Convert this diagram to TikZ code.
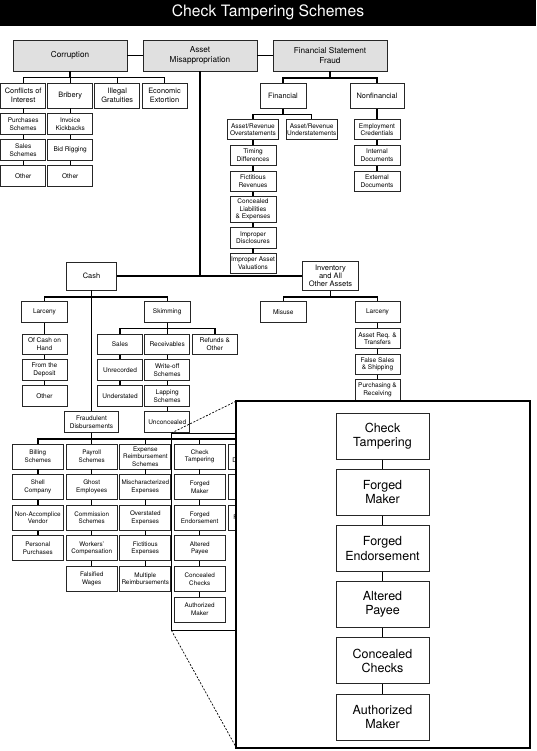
\documentclass[tikz,border=0pt]{standalone}
\usepackage{fontspec}
\setmainfont{TeX Gyre Heros}
\usepackage{xcolor}
\usepackage{tikz}

\begin{document}
\begin{tikzpicture}[x=1pt,y=-1pt,
	link/.style={line width=1.4pt},
	box/.style={draw=black!85,line width=0.9pt,fill=white,inner sep=0.5pt,align=center},
	top/.style={box,fill=black!12,minimum width=114,minimum height=31,font=\fontsize{8.2}{10.5}\selectfont},
	mid/.style={box,minimum width=45,minimum height=25,font=\fontsize{7.4}{9}\selectfont},
	sub/.style={box,minimum width=45,minimum height=20.4,font=\fontsize{6.5}{7.4}\selectfont},
	dis/.style={box,minimum width=51,minimum height=25,font=\fontsize{6.3}{7.6}\selectfont},
	big/.style={box,line width=1pt,minimum width=93,minimum height=46,font=\fontsize{12.5}{14.3}\selectfont}]
	\useasboundingbox (0,0) rectangle (536,751);
	\fill[black] (0,0) rectangle (536,26);
	\node (title) at(268,12.5)[white,font=\fontsize{15.7}{18}\selectfont]{Check Tampering Schemes};
	
	% top row
	\node (cor) at(70,55.5)[top]{Corruption};
	\node (am) at(200,55.5)[top]{Asset\\Misappropriation};
	\node (fsf) at(330,55.5)[top]{Financial Statement\\Fraud};
	\draw[link] (cor.east) -- (am.west);
	\draw[link] (am.east) -- (fsf.west);
	
	% corruption
	\node (coi) at(23.2,95.5)[mid]{Conflicts of\\Interest};
	\node (bri) at(70.2,95.5)[mid]{Bribery};
	\node (ill) at(117.3,95.5)[mid]{Illegal\\Gratuities};
	\node (eco) at(164.5,95.5)[mid]{Economic\\Extortion};
	\node (ps) at(23.2,124)[sub]{Purchases\\Schemes};
	\node (ss) at(23.2,150)[sub]{Sales\\Schemes};
	\node (oa) at(23.2,176)[sub]{Other};
	\node (ik) at(70.2,124)[sub]{Invoice\\Kickbacks};
	\node (br) at(70.2,150)[sub]{Bid Rigging};
	\node (ob) at(70.2,176)[sub]{Other};
	\foreach \c in {coi,bri,ill,eco}
		\draw[link] (cor.south) -- ++(0,6.3) -| (\c.north);
	\foreach \a/\b in {coi/ps,ps/ss,ss/oa,bri/ik,ik/br,br/ob}
		\draw[link] (\a.south) -- (\b.north);
	
	% financial statement fraud
	\node (fin) at(283,96)[mid,minimum width=46]{Financial};
	\node (nfin) at(377,96)[mid,minimum width=54]{Nonfinancial};
	\node (aro) at(253,129.7)[sub,minimum width=51]{Asset/Revenue\\Overstatements};
	\node (aru) at(311.7,129.7)[sub,minimum width=51]{Asset/Revenue\\Understatements};
	\node (td) at(253,155.3)[sub,minimum width=46]{Timing\\Differences};
	\node (fr) at(253,181.3)[sub,minimum width=46]{Fictitious\\Revenues};
	\node (cle) at(253,209.5)[sub,minimum width=46,minimum height=25.7]{Concealed\\Liabilities\\\& Expenses};
	\node (id) at(253,237.8)[sub,minimum width=46]{Improper\\Disclosures};
	\node (iav) at(253,263.3)[sub,minimum width=46]{Improper Asset\\Valuations};
	\node (ec) at(377,129.7)[sub,minimum width=46]{Employment\\Credentials};
	\node (ind) at(377,155.3)[sub,minimum width=46]{Internal\\Documents};
	\node (exd) at(377,181.3)[sub,minimum width=46]{External\\Documents};
	\foreach \c in {fin,nfin}
		\draw[link] (fsf.south) -- ++(0,6.7) -| (\c.north);
	\foreach \c in {aro,aru}
		\draw[link] (fin.south) -- ++(0,5.3) -| (\c.north);
	\foreach \a/\b in {aro/td,td/fr,fr/cle,cle/id,id/iav,nfin/ec,ec/ind,ind/exd}
		\draw[link] (\a.south) -- (\b.north);
	
	% asset misappropriation
	\node (cash) at(91.5,276)[mid,minimum width=50,minimum height=28]{Cash};
	\node (inv) at(330.5,276)[mid,minimum width=56,minimum height=29,font=\fontsize{7.5}{7.8}\selectfont]{Inventory\\and All\\Other Assets};
	\draw[link] (am.south) -- (am.south |- cash.east);
	\draw[link] (cash.east) -- (inv.west);
	
	\node (lar) at(44.5,312)[sub,minimum width=45.7]{Larceny};
	\node (ski) at(167.2,312)[sub,minimum width=45.7]{Skimming};
	\node (och) at(44.5,344.2)[sub]{Of Cash on\\Hand};
	\node (ftd) at(44.5,370)[sub]{From the\\Deposit};
	\node (oc) at(44.5,396)[sub]{Other};
	\node (sal) at(120,344.2)[sub]{Sales};
	\node (rec) at(167.2,344.2)[sub]{Receivables};
	\node (rfo) at(214.8,344.2)[sub]{Refunds \&\\Other};
	\node (unr) at(120,370)[sub]{Unrecorded};
	\node (und) at(120,396)[sub]{Understated};
	\node (wos) at(167.2,370)[sub]{Write-off\\Schemes};
	\node (lap) at(167.2,396)[sub]{Lapping\\Schemes};
	\node (unc) at(167.2,422)[sub]{Unconcealed};
	\node (fd) at(91.5,422)[sub,minimum width=54]{Fraudulent\\Disbursements};
	\foreach \c in {lar,ski}
		\draw[link] (cash.south) -- ++(0,6.7) -| (\c.north);
	\draw[link] (cash.south) -- (fd.north);
	\foreach \c in {sal,rec,rfo}
		\draw[link] (ski.south) -- ++(0,6) -| (\c.north);
	\foreach \a/\b in {lar/och,och/ftd,ftd/oc,sal/unr,unr/und,rec/wos,wos/lap,lap/unc}
		\draw[link] (\a.south) -- (\b.north);
	
	\node (mis) at(283.3,312)[sub,minimum width=45.5]{Misuse};
	\node (lari) at(377.5,312)[sub]{Larceny};
	\node (art) at(377.5,338.5)[sub]{Asset Req. \&\\Transfers};
	\node (fss) at(377.5,364.5)[sub]{False Sales\\\& Shipping};
	\node (pur) at(377.5,390)[sub]{Purchasing \&\\Receiving};
	\foreach \c in {mis,lari}
		\draw[link] (inv.south) -- ++(0,6.2) -| (\c.north);
	\foreach \a/\b in {lari/art,art/fss,fss/pur}
		\draw[link] (\a.south) -- (\b.north);
	
	% fraudulent disbursements
	\foreach \t [count=\i] in {{Billing\\Schemes},{Shell\\Company},{Non-Accomplice\\Vendor},{Personal\\Purchases}}
		\node (bil\i) at(37.8,{456.5+30.6*(\i-1)})[dis]{\t};
	\foreach \t [count=\i] in {{Payroll\\Schemes},{Ghost\\Employees},{Commission\\Schemes},{Workers'\\Compensation},{Falsified\\Wages}}
		\node (pay\i) at(91.7,{456.5+30.6*(\i-1)})[dis]{\t};
	\foreach \t [count=\i] in {{Expense\\Reimbursement\\Schemes},{Mischaracterized\\Expenses},{Overstated\\Expenses},{Fictitious\\Expenses},{Multiple\\Reimbursements}}
		\node (exp\i) at(145.3,{456.5+30.6*(\i-1)})[dis]{\t};
	\foreach \t [count=\i] in {{Check\\Tampering},{Forged\\Maker},{Forged\\Endorsement},{Altered\\Payee},{Concealed\\Checks},{Authorized\\Maker}}
		\node (ct\i) at(199.7,{456.5+30.6*(\i-1)})[dis]{\t};
	\foreach \t [count=\i] in {{Register\\Disbursements},{False Voids},{False Refunds}}
		\node (reg\i) at(253.5,{456.5+30.6*(\i-1)})[dis]{\t};
	\foreach \c in {bil,pay,exp,ct,reg}
		\draw[link] (fd.south) -- ++(0,6.3) -| (\c1.north);
	\foreach \i/\j in {1/2,2/3,3/4} \draw[link] (bil\i.south) -- (bil\j.north);
	\foreach \i/\j in {1/2,2/3,3/4,4/5} {
		\draw[link] (pay\i.south) -- (pay\j.north);
		\draw[link] (exp\i.south) -- (exp\j.north);
	}
	\foreach \i/\j in {1/2,2/3,3/4,4/5,5/6} \draw[link] (ct\i.south) -- (ct\j.north);
	\foreach \i/\j in {1/2,2/3} \draw[link] (reg\i.south) -- (reg\j.north);
	
	% enlarged check tampering
	\node (hl) at(203.85,531.65)[draw,line width=0.6pt,minimum width=64.3,minimum height=196.7,inner sep=0]{};
	\draw[line width=0.7pt,dash pattern=on 2pt off 1.5pt] (hl.north west) -- (236.5,401);
	\draw[line width=0.7pt,dash pattern=on 2pt off 1.5pt] (hl.south west) -- (236.5,748);
	\node (pan) at(383,574.5)[draw,fill=white,line width=1.3pt,minimum width=294,minimum height=347,inner sep=0]{};
	\foreach \t [count=\i] in {{Check\\Tampering},{Forged\\Maker},{Forged\\Endorsement},{Altered\\Payee},{Concealed\\Checks},{Authorized\\Maker}}
		\node (pt\i) at(382.5,{436+56.2*(\i-1)})[big]{\t};
	\foreach \i/\j in {1/2,2/3,3/4,4/5,5/6} \draw[link] (pt\i.south) -- (pt\j.north);
\end{tikzpicture}
\end{document}
